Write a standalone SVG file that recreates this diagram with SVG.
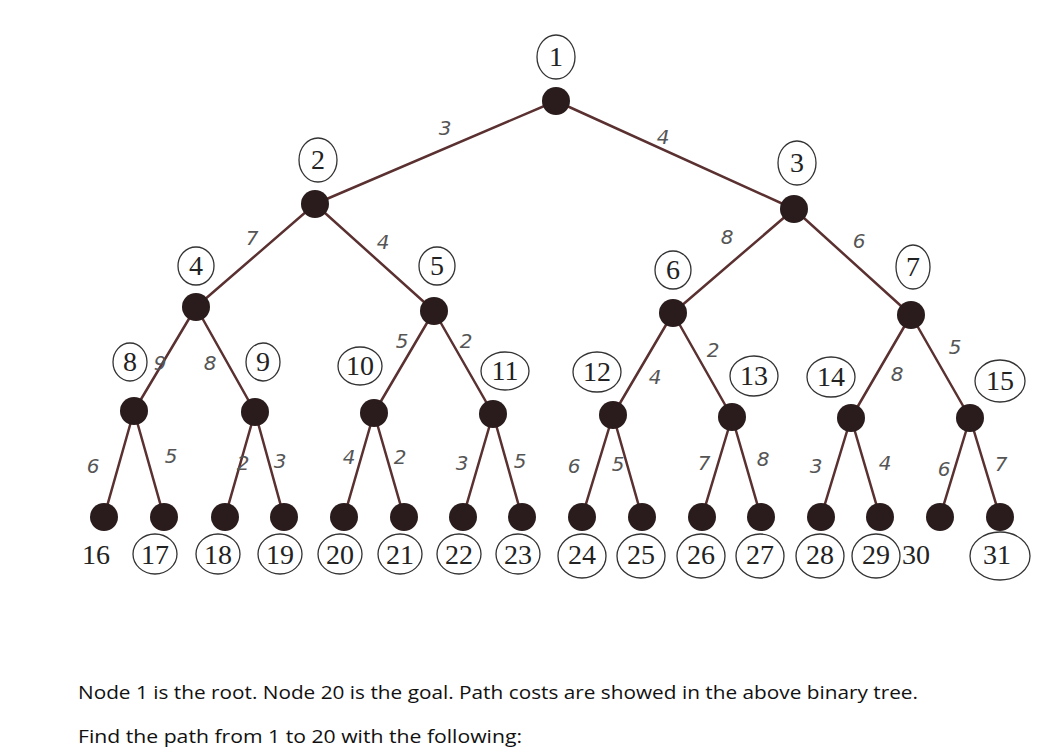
<svg xmlns="http://www.w3.org/2000/svg" width="1049" height="752" viewBox="0 0 1049 752">
<style>
.e{stroke:#5a3030;stroke-width:2.5;fill:none}
.d{fill:#2a1c1c}
.c{fill:none;stroke:#333;stroke-width:1.3}
.n{font-family:"Liberation Serif",serif;font-size:28px;fill:#222;text-anchor:middle}
.w{font-family:"DejaVu Sans",sans-serif;font-size:20px;fill:#555;text-anchor:middle;font-style:italic}
.t{font-family:"Open Sans","Liberation Sans",sans-serif;font-size:18px;fill:#111}
</style>
<rect width="1049" height="752" fill="#fff"/>
<g id="connectors">
<path class="e" d="M556,101L315,204M556,101L794,209M315,204L196,307M315,204L434,311M794,209L673,313M794,209L911,315M196,307L134,411M196,307L255,412M434,311L374,413M434,311L493,414M673,313L613,415M673,313L732,417M911,315L851,418M911,315L970,418M134,411L104,517M134,411L164,517M255,412L225,517M255,412L284,517M374,413L344,517M374,413L404,517M493,414L463,517M493,414L522,517M613,415L582,517M613,415L642,517M732,417L702,517M732,417L761,517M851,418L821,517M851,418L880,517M970,418L940,517M970,418L1000,517"/>
</g>
<g id="weights">
<text class="w" x="445" y="135">3</text><text class="w" x="663" y="144">4</text>
<text class="w" x="252" y="245">7</text><text class="w" x="383" y="249">4</text>
<text class="w" x="727" y="244">8</text><text class="w" x="859" y="248">6</text>
<text class="w" x="160" y="370">9</text><text class="w" x="210" y="370">8</text>
<text class="w" x="402" y="348">5</text><text class="w" x="466" y="348">2</text>
<text class="w" x="655" y="384">4</text><text class="w" x="713" y="357">2</text>
<text class="w" x="897" y="381">8</text><text class="w" x="955" y="354">5</text>
<text class="w" x="93" y="473">6</text><text class="w" x="171" y="463">5</text>
<text class="w" x="243" y="470">2</text><text class="w" x="280" y="468">3</text>
<text class="w" x="349" y="464">4</text><text class="w" x="400" y="464">2</text>
<text class="w" x="462" y="470">3</text><text class="w" x="520" y="468">5</text>
<text class="w" x="574" y="473">6</text><text class="w" x="618" y="471">5</text>
<text class="w" x="704" y="470">7</text><text class="w" x="763" y="466">8</text>
<text class="w" x="816" y="473">3</text><text class="w" x="885" y="470">4</text>
<text class="w" x="944" y="476">6</text><text class="w" x="1001" y="471">7</text>
</g>
<g id="n1"><circle class="d" cx="556" cy="101" r="14"/><ellipse class="c" cx="556" cy="57" rx="19" ry="22"/><text class="n" x="556" y="66">1</text></g>
<g id="n2"><circle class="d" cx="315" cy="204" r="14"/><ellipse class="c" cx="318" cy="160" rx="19" ry="22"/><text class="n" x="318" y="169">2</text></g>
<g id="n3"><circle class="d" cx="794" cy="209" r="14"/><ellipse class="c" cx="797" cy="163" rx="19" ry="22"/><text class="n" x="797" y="172">3</text></g>
<g id="n4"><circle class="d" cx="196" cy="307" r="14"/><ellipse class="c" cx="196" cy="266" rx="18" ry="19"/><text class="n" x="196" y="275">4</text></g>
<g id="n5"><circle class="d" cx="434" cy="311" r="14"/><ellipse class="c" cx="437" cy="266" rx="18" ry="19"/><text class="n" x="437" y="275">5</text></g>
<g id="n6"><circle class="d" cx="673" cy="313" r="14"/><ellipse class="c" cx="673" cy="270" rx="18" ry="19"/><text class="n" x="673" y="279">6</text></g>
<g id="n7"><circle class="d" cx="911" cy="315" r="14"/><ellipse class="c" cx="913" cy="267" rx="17" ry="22"/><text class="n" x="913" y="276">7</text></g>
<g id="n8"><circle class="d" cx="134" cy="411" r="14"/><ellipse class="c" cx="130" cy="362" rx="17" ry="19"/><text class="n" x="130" y="371">8</text></g>
<g id="n9"><circle class="d" cx="255" cy="412" r="14"/><ellipse class="c" cx="263" cy="362" rx="17" ry="19"/><text class="n" x="263" y="371">9</text></g>
<g id="n10"><circle class="d" cx="374" cy="413" r="14"/><ellipse class="c" cx="360" cy="366" rx="22" ry="19"/><text class="n" x="360" y="375">10</text></g>
<g id="n11"><circle class="d" cx="493" cy="414" r="14"/><ellipse class="c" cx="505" cy="371" rx="24" ry="19"/><text class="n" x="505" y="380">11</text></g>
<g id="n12"><circle class="d" cx="613" cy="415" r="14"/><ellipse class="c" cx="597" cy="372" rx="24" ry="20"/><text class="n" x="597" y="381">12</text></g>
<g id="n13"><circle class="d" cx="732" cy="417" r="14"/><ellipse class="c" cx="754" cy="376" rx="24" ry="20"/><text class="n" x="754" y="385">13</text></g>
<g id="n14"><circle class="d" cx="851" cy="418" r="14"/><ellipse class="c" cx="831" cy="377" rx="24" ry="20"/><text class="n" x="831" y="386">14</text></g>
<g id="n15"><circle class="d" cx="970" cy="418" r="14"/><ellipse class="c" cx="1000" cy="381" rx="25" ry="21"/><text class="n" x="1000" y="390">15</text></g>
<g id="n16"><circle class="d" cx="104" cy="517" r="14"/><text class="n" x="96" y="564">16</text></g>
<g id="n17"><circle class="d" cx="164" cy="517" r="14"/><ellipse class="c" cx="155" cy="554" rx="22" ry="20"/><text class="n" x="155" y="564">17</text></g>
<g id="n18"><circle class="d" cx="225" cy="517" r="14"/><ellipse class="c" cx="218" cy="554" rx="22" ry="20"/><text class="n" x="218" y="564">18</text></g>
<g id="n19"><circle class="d" cx="284" cy="517" r="14"/><ellipse class="c" cx="280" cy="554" rx="22" ry="20"/><text class="n" x="280" y="564">19</text></g>
<g id="n20"><circle class="d" cx="344" cy="517" r="14"/><ellipse class="c" cx="340" cy="554" rx="22" ry="20"/><text class="n" x="340" y="564">20</text></g>
<g id="n21"><circle class="d" cx="404" cy="517" r="14"/><ellipse class="c" cx="400" cy="554" rx="22" ry="20"/><text class="n" x="400" y="564">21</text></g>
<g id="n22"><circle class="d" cx="463" cy="517" r="14"/><ellipse class="c" cx="459" cy="554" rx="22" ry="20"/><text class="n" x="459" y="564">22</text></g>
<g id="n23"><circle class="d" cx="522" cy="517" r="14"/><ellipse class="c" cx="518" cy="554" rx="22" ry="20"/><text class="n" x="518" y="564">23</text></g>
<g id="n24"><circle class="d" cx="582" cy="517" r="14"/><ellipse class="c" cx="582" cy="556" rx="24" ry="22"/><text class="n" x="582" y="564">24</text></g>
<g id="n25"><circle class="d" cx="642" cy="517" r="14"/><ellipse class="c" cx="641" cy="556" rx="24" ry="22"/><text class="n" x="641" y="564">25</text></g>
<g id="n26"><circle class="d" cx="702" cy="517" r="14"/><ellipse class="c" cx="701" cy="556" rx="24" ry="22"/><text class="n" x="701" y="564">26</text></g>
<g id="n27"><circle class="d" cx="761" cy="517" r="14"/><ellipse class="c" cx="760" cy="556" rx="24" ry="22"/><text class="n" x="760" y="564">27</text></g>
<g id="n28"><circle class="d" cx="821" cy="517" r="14"/><ellipse class="c" cx="820" cy="556" rx="24" ry="22"/><text class="n" x="820" y="564">28</text></g>
<g id="n29"><circle class="d" cx="880" cy="517" r="14"/><ellipse class="c" cx="876" cy="556" rx="24" ry="22"/><text class="n" x="876" y="564">29</text></g>
<g id="n30"><circle class="d" cx="940" cy="517" r="14"/><text class="n" x="916" y="564">30</text></g>
<g id="n31"><circle class="d" cx="1000" cy="517" r="14"/><ellipse class="c" cx="1000" cy="556" rx="30" ry="24"/><text class="n" x="997" y="564">31</text></g>
<text class="t" x="78" y="699" textLength="840" lengthAdjust="spacingAndGlyphs">Node 1 is the root. Node 20 is the goal. Path costs are showed in the above binary tree.</text>
<text class="t" x="78" y="743" textLength="444" lengthAdjust="spacingAndGlyphs">Find the path from 1 to 20 with the following:</text>
</svg>
